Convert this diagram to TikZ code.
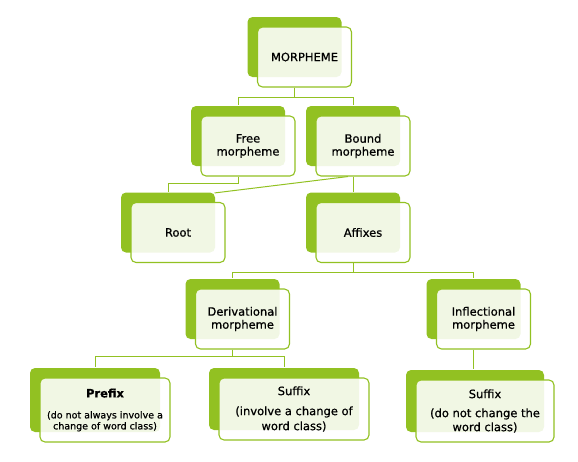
\documentclass[tikz,border=0pt]{standalone}
\usepackage{fontspec}
\setmainfont{DejaVu Sans}[FakeBold=0.7]
\usetikzlibrary{shadows,positioning}
\definecolor{leaf}{RGB}{146,193,34}

\begin{document}
\begin{tikzpicture}[
  x=1pt, y=-1pt,
  every node/.style={align=center, font=\fontsize{11.5}{13}\selectfont},
  card/.style={rectangle, draw=leaf, line width=1.1pt, rounded corners=5pt,
    fill=white, fill opacity=0.88, text opacity=1,
    general shadow={fill=leaf, fill opacity=1, shadow xshift=-10pt, shadow yshift=10pt},
    minimum width=94pt, minimum height=60pt, inner sep=2pt},
  link/.style={draw=leaf, line width=1pt}
]
\useasboundingbox (0,0) rectangle (578,461);

% --- ROOT ---
\node[card] (morph) at (304.5,57) {MORPHEME};

% --- SECOND LEVEL ---
\node[card] (free) at (248,146) {Free\\morpheme};
\node[card] (bound) at (363,146) {Bound\\morpheme};

% --- THIRD LEVEL ---
\node[card] (root) at (178,232.5) {Root};
\node[card] (affix) at (363,232.5) {Affixes};

% --- FOURTH LEVEL ---
\node[card] (deriv) at (242.5,319) {Derivational\\morpheme};
\node[card] (infl) at (483.5,319) {Inflectional\\morpheme};

% --- BOTTOM LEVEL ---
\node[card, minimum width=130pt, minimum height=64pt] (prefix) at (105,410)
  {\textbf{Prefix}\\[8pt]{\fontsize{9.5}{11}\selectfont (do not always involve a}\\[-2pt]{\fontsize{9.5}{11}\selectfont change of word class)}};
\node[card, minimum width=150pt, minimum height=62pt] (sufd) at (294,409)
  {Suffix\\[7pt](involve a change of\\[2pt]word class)};
\node[card, minimum width=138pt, minimum height=62pt] (sufi) at (485,411)
  {Suffix\\[6pt](do not change the\\[1pt]word class)};

% --- CONNECTORS ---
\draw[link] ([xshift=-10pt]morph.south) -- ++(0pt,-10pt) -| ([xshift=-10pt,yshift=10pt]free.north);
\draw[link] ([xshift=-10pt]morph.south) -- ++(0pt,-10pt) -| ([xshift=-10pt,yshift=10pt]bound.north);

\draw[link] ([xshift=-10pt]free.south) -- ++(0pt,-7pt) -| ([xshift=-10pt,yshift=10pt]root.north);
\draw[link] ([xshift=-15pt]bound.south) -- ([xshift=-11pt,yshift=9pt]root.north east);
\draw[link] ([xshift=-10pt]bound.south) -- ([xshift=-10pt,yshift=10pt]affix.north);

\draw[link] ([xshift=-10pt]affix.south) -- ++(0pt,-9pt) -| ([xshift=-10pt,yshift=10pt]deriv.north);
\draw[link] ([xshift=-10pt]affix.south) -- ++(0pt,-9pt) -| ([xshift=-10pt,yshift=10pt]infl.north);

\draw[link] ([xshift=-10pt]deriv.south) -- ++(0pt,-7pt) -| ([xshift=-10pt,yshift=10pt]prefix.north);
\draw[link] ([xshift=-10pt]deriv.south) -- ++(0pt,-7pt) -| ([xshift=-10pt,yshift=10pt]sufd.north);

\draw[link] ([xshift=-10pt]infl.south) -- ([xshift=-10pt,yshift=10pt]infl.south |- sufi.north);

\end{tikzpicture}
\end{document}
